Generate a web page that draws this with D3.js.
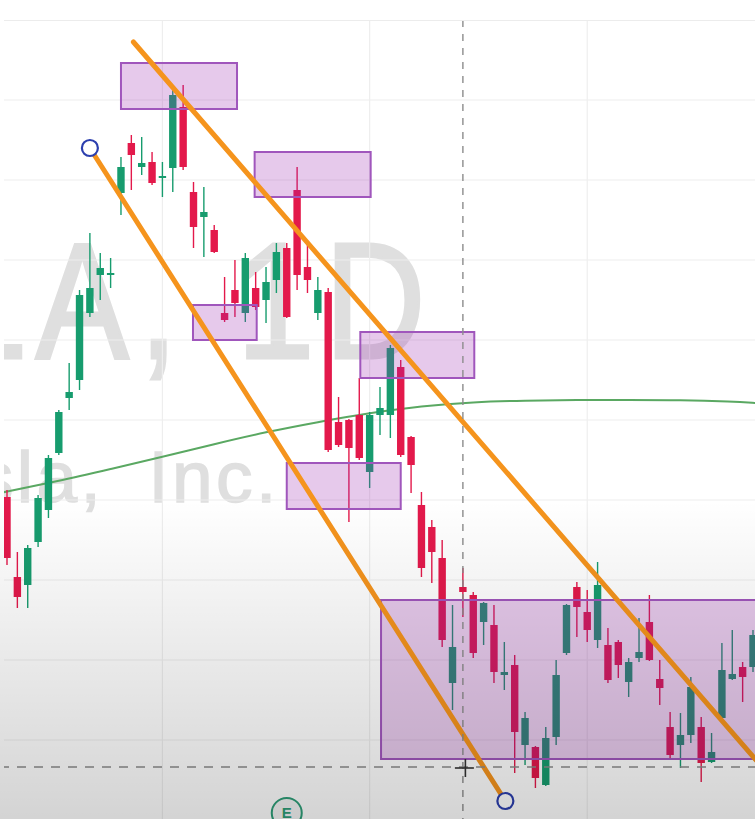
<!DOCTYPE html>
<html><head><meta charset="utf-8">
<script src="https://cdn.jsdelivr.net/npm/d3@7/dist/d3.min.js"></script>
<style>html,body{margin:0;padding:0;background:#fff;overflow:hidden}</style>
</head><body>
<svg id="chart" width="755" height="819"></svg>
<script>
// ---- data (TSLA daily, arbitrary price units) ----
const dates = ["2022-03-11","2022-03-14","2022-03-15","2022-03-16","2022-03-17","2022-03-18","2022-03-21","2022-03-22","2022-03-23","2022-03-24","2022-03-25","2022-03-28","2022-03-29","2022-03-30","2022-03-31","2022-04-01","2022-04-04","2022-04-05","2022-04-06","2022-04-07","2022-04-08","2022-04-11","2022-04-12","2022-04-13","2022-04-14","2022-04-18","2022-04-19","2022-04-20","2022-04-21","2022-04-22","2022-04-25","2022-04-26","2022-04-27","2022-04-28","2022-04-29","2022-05-02","2022-05-03","2022-05-04","2022-05-05","2022-05-06","2022-05-09","2022-05-10","2022-05-11","2022-05-12","2022-05-13","2022-05-16","2022-05-17","2022-05-18","2022-05-19","2022-05-20","2022-05-23","2022-05-24","2022-05-25","2022-05-26","2022-05-27","2022-05-31","2022-06-01","2022-06-02","2022-06-03","2022-06-06","2022-06-07","2022-06-08","2022-06-09","2022-06-10","2022-06-13","2022-06-14","2022-06-15","2022-06-16","2022-06-17","2022-06-21","2022-06-22","2022-06-23","2022-06-24"];
const open  = [221.2,189.2,186,203.2,216,238.8,260.8,268,294.8,310,310.4,342.8,362.8,353.2,355.2,348.8,352.8,377.2,343.2,333.2,328,294.8,304,294.8,304.8,300,308,320.8,344,313.2,294.8,303.2,251.2,252,254,231.2,254,254,273.2,245.2,218,209.2,196.8,146.8,185.2,182,171.2,170,150,154,122,121.2,106,125.2,158.8,185.2,175.2,164,162,163.2,147.2,156.8,171.2,148.4,129.2,122,126,129.2,115.2,132.8,148.4,153.2,153.2];
const high  = [224,199.2,202,222,238,256,274.8,304,326.8,318.8,316.8,357.2,366,365.2,359.2,355.2,384.8,386,347.2,345.2,330,309.2,316,318.8,311.2,313.2,322.8,322.8,353.2,322.8,309.2,304.8,261.2,252.4,268.8,255.2,265.2,282,276,245.6,223.2,212,204,178,192.8,183.2,179.2,178,163.2,158,135.2,121.6,129.2,156,178.4,187.2,184,195.2,168.8,164,156.8,172.8,182,156,135.2,134.8,149.2,133.2,126.8,162.8,168,155.2,168];
const low   = [194,176.8,176.8,201.2,212.8,238,256,264,293.2,300,304.8,334,344,350,346,341.2,343.2,352,320.8,317.2,318.8,291.2,293.2,291.2,296,290.8,302.8,292.8,304,302.8,292,239.2,241.2,211.2,236,224.8,246,244.8,237.2,222.8,189.2,186.8,161.2,136,173.2,156.8,162,146.8,144,110.8,114,104.8,105.6,122,158,165.2,163.2,160.8,146.8,148.8,141.2,155.2,155.6,138,116.8,112.8,122.8,107.2,114.8,132.4,148,139.2,151.2];
const close = [196.8,181.2,200.8,220.8,236.8,255.2,263.2,302,304.8,312.8,310.8,353.2,358,354.8,346.8,349.6,382,353.2,329.2,335.2,319.2,292,298.8,316.8,297.2,307.2,319.2,293.2,310,308,304,240,242,240.8,236.8,254,256.8,280.8,238,234,192.8,199.2,164,161.2,183.2,158.8,178.8,151.2,151.2,127.2,132.8,108.8,124.8,150,178,177.2,168,186,148,154,155.2,159.2,156,144.8,118,126,145.2,114.8,119.2,152,150.4,149.2,166];

// slow moving average sampled along the bars
const maBar   = [-0.7,5,10,15,20,25,30,35,40,45,50,55,60,65,70,72.3];
const maValue = [222.8,227.6,232.4,237.2,242.4,247.2,251.2,254.8,257.6,259.2,259.8,260,260,260,259.4,258.8];

// horizontal grid prices, month-start grid dates
const gridPrices = [412,380,348,316,284,252,220,188,156,124];
const monthStarts = ["2022-04-01","2022-05-02","2022-06-01"];

// rectangle drawings (bar index from/to, price top/bottom)
const zoneFrom   = [11.0,23.9,17.95,34.1,27.0,36.1];
const zoneTo     = [22.2,35.1,24.1,45.1,38.0,75];
const zoneTop    = [394.8,359.2,298,287.2,234.8,180];
const zoneBottom = [376.4,341.2,284,268.8,216.4,116.4];

// trend lines [barIndex, price]
const upperTrend = [[12.2,403.2],[72.3,116.0]];
const lowerTrend = [[8.0,360.8],[48.1,99.6]];

const crosshairDate = "2022-05-13";
const crosshairPrice = 113.2;
const earningsDate = "2022-04-20";
const watermarkTitle = "TSLA, 1D";
const watermarkName = "Tesla, Inc.";

// ---- drawing ----
const W = 755, H = 819;
const svg = d3.select("#chart");
const x = d3.scaleLinear().domain([0, dates.length - 1]).range([7, 753]);
const y = d3.scaleLinear().domain([92.4, 412]).range([819, 20]);
const idx = d => dates.indexOf(d);

const defs = svg.append("defs");
defs.append("clipPath").attr("id","area").append("rect").attr("x",4).attr("y",20).attr("width",W-4).attr("height",H-20);
const grad = defs.append("linearGradient").attr("id","shade").attr("gradientUnits","userSpaceOnUse")
  .attr("x1",0).attr("y1",500).attr("x2",0).attr("y2",819);
grad.append("stop").attr("offset",0).attr("stop-color","#000").attr("stop-opacity",0);
grad.append("stop").attr("offset",0.35).attr("stop-color","#000").attr("stop-opacity",0.06);
grad.append("stop").attr("offset",1).attr("stop-color","#000").attr("stop-opacity",0.17);

svg.append("rect").attr("width",W).attr("height",H).attr("fill","#fff");
const g = svg.append("g").attr("clip-path","url(#area)");

// watermark (condensed, widely tracked lettering)
g.append("text").attr("transform","translate(-251,358) scale(0.848,1)")
  .attr("font-family","Liberation Sans, Arial, sans-serif").attr("font-size",165)
  .attr("letter-spacing",11.8).attr("fill","#dfdfdf")
  .attr("stroke","#dfdfdf").attr("stroke-width",3).text(watermarkTitle);
g.append("text").attr("transform","translate(-107,502)")
  .attr("font-family","Liberation Sans, Arial, sans-serif").attr("font-size",73)
  .attr("letter-spacing",3.4).attr("word-spacing",20.6).attr("fill","#dfdfdf")
  .attr("stroke","#dfdfdf").attr("stroke-width",1.5).text(watermarkName);

// grid
g.selectAll(".hg").data(gridPrices).join("line")
  .attr("x1",4).attr("x2",W).attr("y1",d=>y(d)).attr("y2",d=>y(d))
  .attr("stroke","#eeeeee").attr("stroke-width",1.2);
g.selectAll(".vg").data(monthStarts).join("line")
  .attr("x1",d=>x(idx(d))).attr("x2",d=>x(idx(d))).attr("y1",20).attr("y2",H)
  .attr("stroke","#eeeeee").attr("stroke-width",1.2);

// moving average
g.append("path").datum(maBar.map((b,i)=>[b,maValue[i]]))
  .attr("d", d3.line().x(d=>x(d[0])).y(d=>y(d[1])).curve(d3.curveBasis))
  .attr("fill","none").attr("stroke","#5aa862").attr("stroke-width",2);

// candles
const UP = "#179c6e", DN = "#e3194b";
const bars = dates.map((d,i)=>({i, o:open[i], h:high[i], l:low[i], c:close[i]}));
const cg = g.append("g");
cg.selectAll(".wick").data(bars).join("line")
  .attr("x1",d=>x(d.i)).attr("x2",d=>x(d.i)).attr("y1",d=>y(d.h)).attr("y2",d=>y(d.l))
  .attr("stroke",d=>d.c>=d.o?UP:DN).attr("stroke-width",1.4);
const bw = 7.4;
cg.selectAll(".body").data(bars).join("rect")
  .attr("x",d=>x(d.i)-bw/2).attr("width",bw)
  .attr("y",d=>y(Math.max(d.o,d.c)))
  .attr("height",d=>Math.max(2, Math.abs(y(d.o)-y(d.c))))
  .attr("fill",d=>d.c>=d.o?UP:DN);

// rectangles
g.selectAll(".zone").data(zoneFrom.map((f,i)=>i)).join("rect")
  .attr("x",i=>x(zoneFrom[i])).attr("width",i=>x(zoneTo[i])-x(zoneFrom[i]))
  .attr("y",i=>y(zoneTop[i])).attr("height",i=>y(zoneBottom[i])-y(zoneTop[i]))
  .attr("fill","rgba(156,39,176,0.25)").attr("stroke","#a056bc").attr("stroke-width",2);

// trend lines
const tl = d3.line().x(d=>x(d[0])).y(d=>y(d[1]));
[upperTrend, lowerTrend].forEach(t=>{
  g.append("path").attr("d",tl(t)).attr("fill","none")
   .attr("stroke","#f5941d").attr("stroke-width",5).attr("stroke-linecap","round");
});
// anchor handles on the selected lower line
lowerTrend.forEach(p=>{
  g.append("circle").attr("cx",x(p[0])).attr("cy",y(p[1])).attr("r",8)
   .attr("fill","#fff").attr("stroke","#2c3fae").attr("stroke-width",2.2);
});

// crosshair
const cx = x(idx(crosshairDate)), cy = y(crosshairPrice);
g.append("line").attr("x1",cx).attr("x2",cx).attr("y1",20).attr("y2",H)
  .attr("stroke","#8c8c8c").attr("stroke-width",1.4).attr("stroke-dasharray","7,7");
g.append("line").attr("x1",0).attr("x2",W).attr("y1",cy).attr("y2",cy)
  .attr("stroke","#8c8c8c").attr("stroke-width",1.4).attr("stroke-dasharray","9,8");
g.append("line").attr("x1",cx-8).attr("x2",cx+11).attr("y1",cy+1).attr("y2",cy+1).attr("stroke","#333").attr("stroke-width",1.6);
g.append("line").attr("x1",cx+2.5).attr("x2",cx+2.5).attr("y1",cy-8).attr("y2",cy+10).attr("stroke","#333").attr("stroke-width",1.6);

// earnings marker
const ex = x(idx(earningsDate));
g.append("circle").attr("cx",ex).attr("cy",813).attr("r",15).attr("fill","#f4f4f4")
  .attr("stroke","#2e9e78").attr("stroke-width",2);
g.append("text").attr("x",ex).attr("y",818).attr("text-anchor","middle")
  .attr("font-family","Liberation Sans, Arial, sans-serif").attr("font-size",15).attr("font-weight","bold")
  .attr("fill","#2e9e78").text("E");

// top border
svg.append("line").attr("x1",4).attr("x2",W).attr("y1",20.5).attr("y2",20.5).attr("stroke","#ececec");

// screen shading toward the bottom
svg.append("rect").attr("x",0).attr("y",0).attr("width",W).attr("height",H).attr("fill","url(#shade)");
</script>
</body></html>
